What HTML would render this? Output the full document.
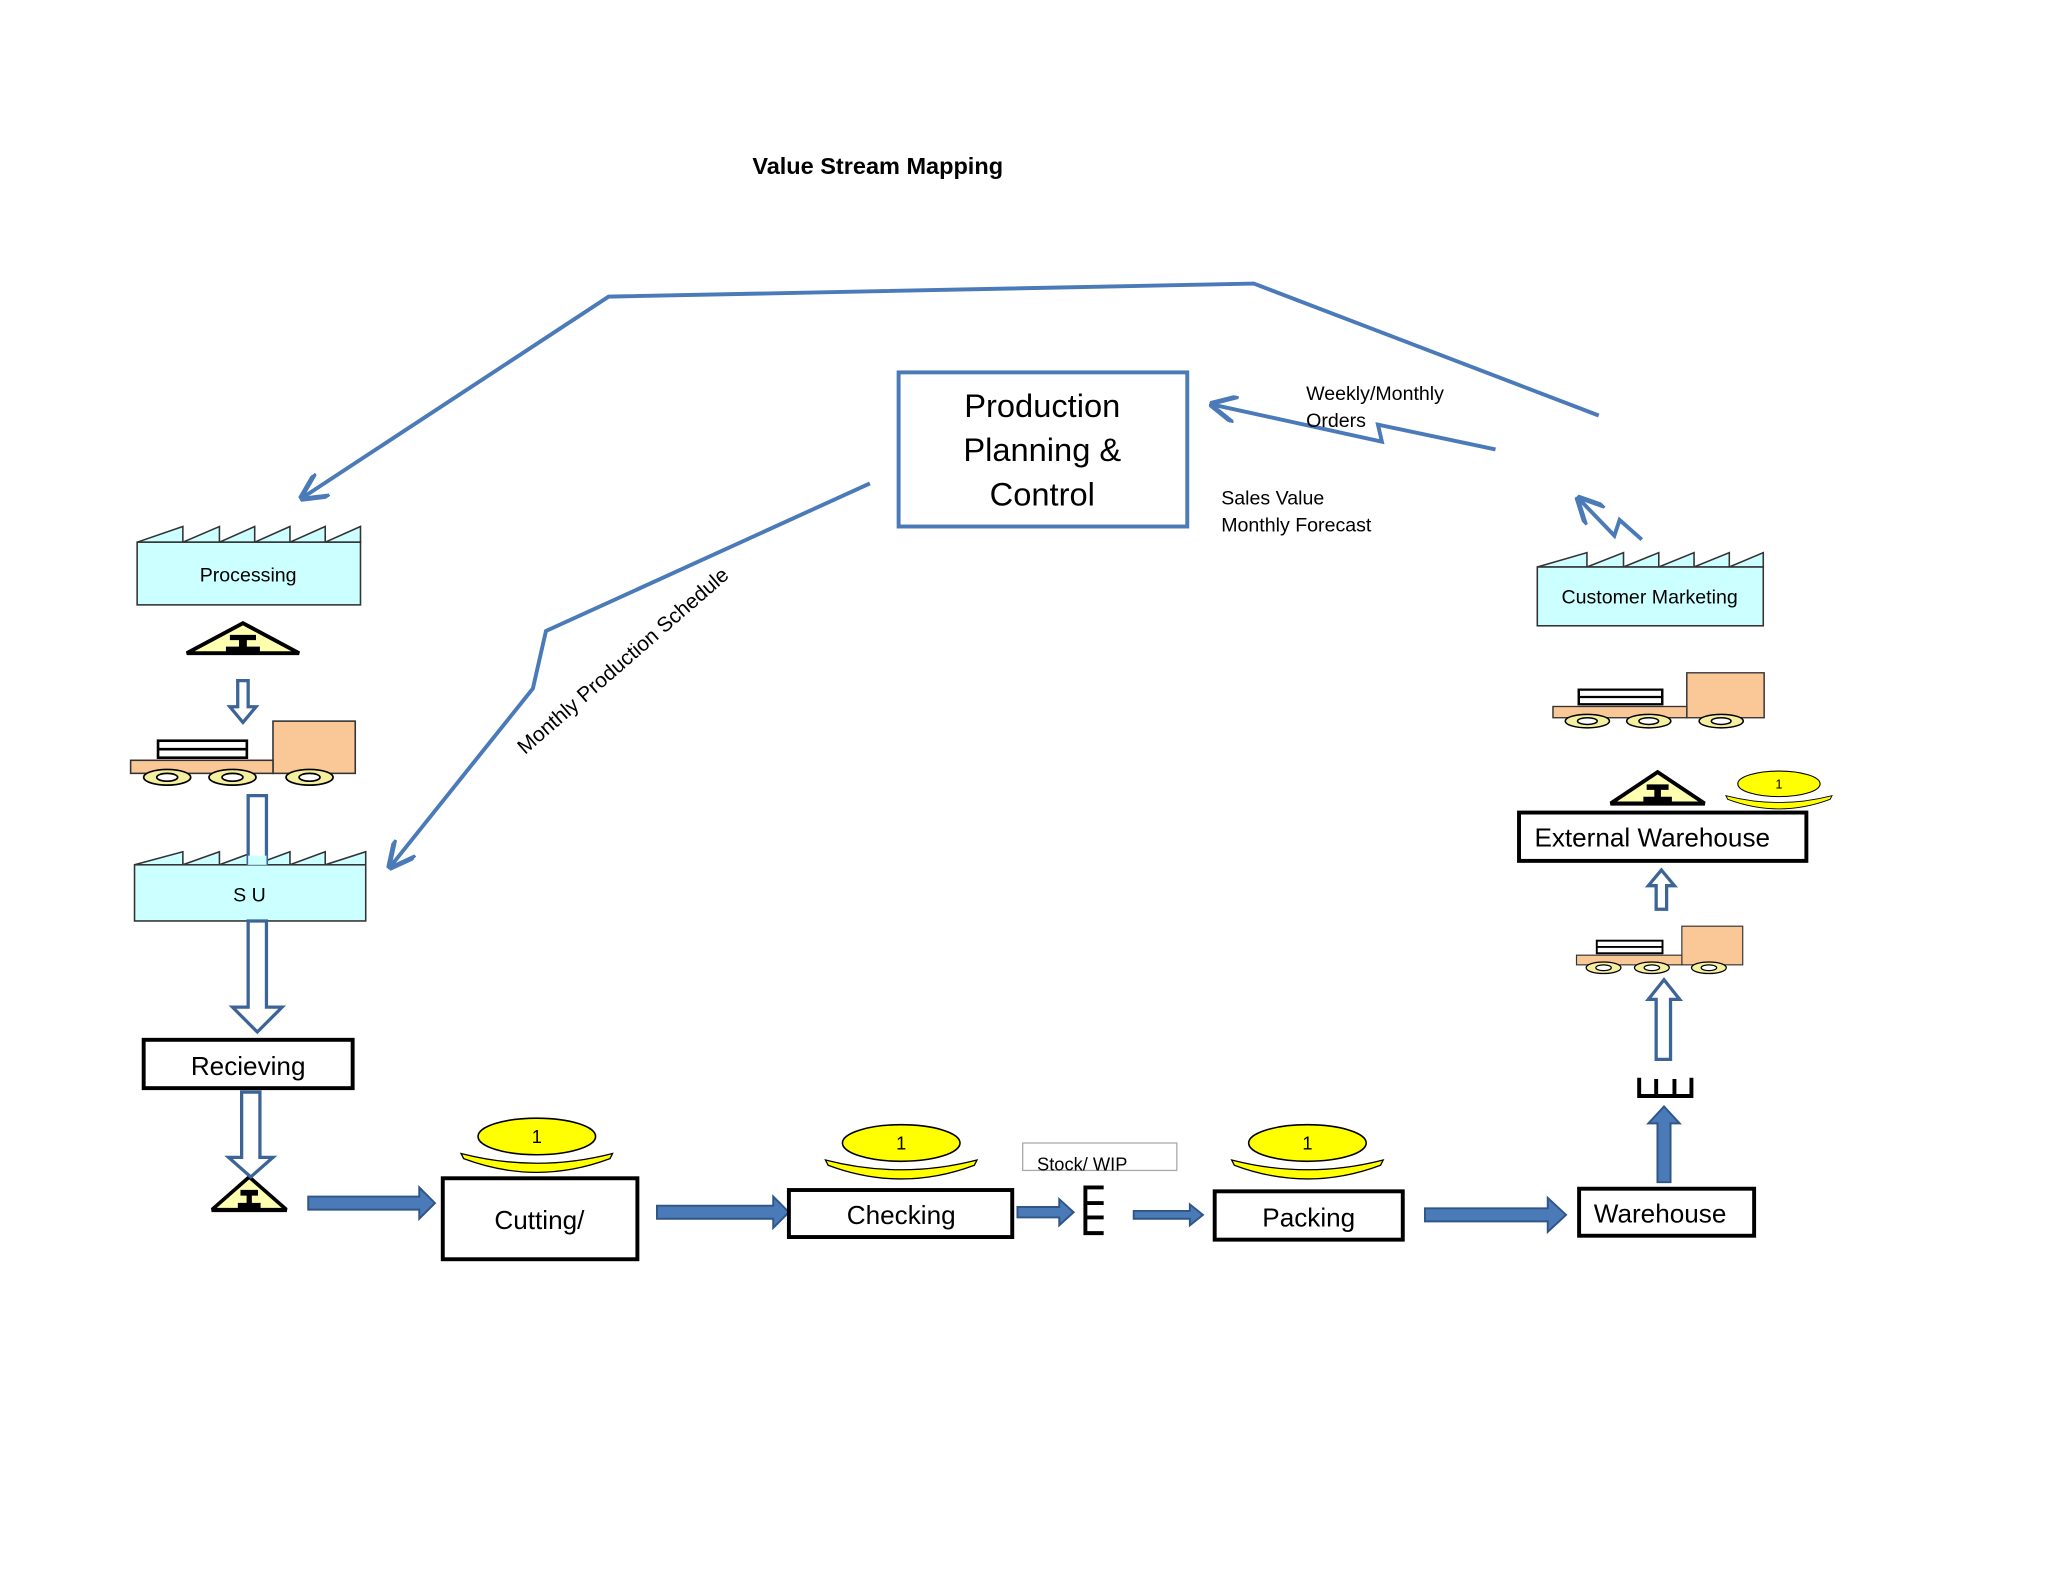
<!DOCTYPE html>
<html><head><style>html,body{margin:0;padding:0;background:#fff}svg{display:block}text{font-family:"Liberation Sans",sans-serif}</style></head><body>
<svg width="2048" height="1582" viewBox="0 0 1568 1211" xmlns="http://www.w3.org/2000/svg">
<defs>
<g id="truck">
<rect x="109" y="0" width="63" height="40" fill="#fac896" stroke="#333" stroke-width="1.2"/>
<rect x="0" y="30" width="109" height="10" fill="#fac896" stroke="#333" stroke-width="1.2"/>
<rect x="21" y="15" width="68" height="13" fill="#fff" stroke="#000" stroke-width="2"/>
<line x1="21" y1="21.5" x2="89" y2="21.5" stroke="#000" stroke-width="2"/>
<g fill="#f5f0a0" stroke="#000" stroke-width="1.3">
<ellipse cx="28" cy="43" rx="18" ry="6"/><ellipse cx="78" cy="43" rx="18" ry="6"/><ellipse cx="137" cy="43" rx="18" ry="6"/></g>
<g fill="#fff" stroke="#000" stroke-width="1.3">
<ellipse cx="28" cy="43" rx="8" ry="3"/><ellipse cx="78" cy="43" rx="8" ry="3"/><ellipse cx="137" cy="43" rx="8" ry="3"/></g>
</g>
<g id="inv">
<polygon points="0,23 43,0 86,23" fill="#ffffb0" stroke="#000" stroke-width="3"/>
<path d="M33,9 h20 v4 h-7 v5 h10 v4 h-26 v-4 h10 v-5 h-7z" fill="#000"/>
</g>
<g id="op">
<ellipse cx="0" cy="0" rx="45" ry="14" fill="#ffff00" stroke="#000" stroke-width="1.2"/>
<text x="0" y="5" font-size="14" text-anchor="middle">1</text>
<path d="M-58,13 Q0,28 58,13 L56,17 Q0,38 -56,17 Z" fill="#ffff00" stroke="#000" stroke-width="1"/>
</g>
<marker id="ah" viewBox="0 0 10 10" refX="8" refY="5" markerWidth="7" markerHeight="7" orient="auto-start-reverse"><path d="M0,0 L10,5 L0,10" fill="none" stroke="#4a7ab8" stroke-width="1.8"/></marker>
</defs>

<text x="576" y="133" font-size="18" font-weight="bold">Value Stream Mapping</text>

<polyline points="233,380 466,227 960,217 1224,318" fill="none" stroke="#4a7ab8" stroke-width="3" marker-start="url(#ah)"/>
<polyline points="1145,344 1055,325 1058,338 930,310" fill="none" stroke="#4a7ab8" stroke-width="3" marker-end="url(#ah)"/>
<polyline points="1257,413 1240,398 1236,410 1210,383" fill="none" stroke="#4a7ab8" stroke-width="3" marker-end="url(#ah)"/>
<polyline points="666,370 418,483 408,527 300,662" fill="none" stroke="#4a7ab8" stroke-width="3" marker-end="url(#ah)"/>
<text x="0" y="0" font-size="16" transform="translate(402,578) rotate(-41)">Monthly Production Schedule</text>

<rect x="688" y="285" width="221" height="118" fill="#fff" stroke="#4a7ab8" stroke-width="3"/>
<text x="798" y="319" font-size="25" text-anchor="middle">Production</text>
<text x="798" y="353" font-size="25" text-anchor="middle">Planning &amp;</text>
<text x="798" y="387" font-size="25" text-anchor="middle">Control</text>
<text x="1000" y="306" font-size="15">Weekly/Monthly</text>
<text x="1000" y="327" font-size="15">Orders</text>
<text x="935" y="386" font-size="15">Sales Value</text>
<text x="935" y="407" font-size="15">Monthly Forecast</text>

<g stroke="#333" stroke-width="1.2" fill="#ccffff">
<path d="M105,415 L140,403 V415 L168,403 V415 L195,403 V415 L222,403 V415 L249,403 V415 L276,403 V415 Z"/>
<rect x="105" y="415" width="171" height="48"/>
<path d="M103,662 L140,652 V662 L168,652 V662 L195,652 V662 L222,652 V662 L249,652 V662 L280,652 V662 Z"/>
<rect x="103" y="662" width="177" height="43"/>
<path d="M1177,434 L1215,423 V434 L1243,423 V434 L1270,423 V434 L1297,423 V434 L1324,423 V434 L1350,423 V434 Z"/>
<rect x="1177" y="434" width="173" height="45"/>
</g>
<text x="190" y="445" font-size="15" text-anchor="middle">Processing</text>
<text x="191" y="690" font-size="15" text-anchor="middle">S U</text>
<text x="1263" y="462" font-size="15" text-anchor="middle">Customer Marketing</text>

<use href="#inv" x="143" y="477"/>
<use href="#inv" transform="translate(162,901) scale(0.67,1.1)"/>
<use href="#inv" transform="translate(1233,591) scale(0.84,1.05)"/>

<use href="#truck" x="100" y="552"/>
<use href="#truck" transform="translate(1189,515) scale(0.94,0.86)"/>
<use href="#truck" transform="translate(1207,709) scale(0.74,0.74)"/>

<g fill="#fff" stroke="#3c6496" stroke-width="2.5">
<path d="M182,521 h8 v20 h6 l-10,12 l-10,-12 h6z"/>
<path d="M190,609 h14 v52 h-14z"/>
<path d="M190,705 h14 v66 h12 l-19,19 l-19,-19 h12z"/>
<path d="M185,836 h14 v50 h10 l-17,15 l-17,-15 h10z"/>
<path d="M1268,696 h8 v-18 h6 l-10,-12 l-10,12 h6z"/>
<path d="M1268,811 h11 v-46 h7 l-12,-15 l-12,15 h6z"/>
</g>
<rect x="190" y="655" width="14" height="7" fill="#ccffff"/>

<g fill="#4a7ab8" stroke="#2f5686" stroke-width="1.5">
<path d="M236,916 h85 v-7 l12,12 l-12,12 v-7 h-85z"/>
<path d="M503,923 h89 v-7 l12,12 l-12,12 v-7 h-89z"/>
<path d="M779,924 h32 v-6 l11,10 l-11,10 v-6 h-32z"/>
<path d="M868,927 h43 v-5 l10,8 l-10,8 v-5 h-43z"/>
<path d="M1091,925 h94 v-8 l14,13 l-14,13 v-8 h-94z"/>
<path d="M1269,905 v-45 h-7 l12,-13 l12,13 h-7 v45z"/>
</g>

<g fill="#fff" stroke="#000" stroke-width="3">
<rect x="110" y="796" width="160" height="37"/>
<rect x="339" y="902" width="149" height="62"/>
<rect x="604" y="911" width="171" height="36"/>
<rect x="930" y="912" width="144" height="37"/>
<rect x="1209" y="910" width="134" height="36"/>
<rect x="1163" y="622" width="220" height="37"/>
</g>
<text x="190" y="823" font-size="20" text-anchor="middle">Recieving</text>
<text x="413" y="941" font-size="20" text-anchor="middle">Cutting/</text>
<text x="690" y="937" font-size="20" text-anchor="middle">Checking</text>
<text x="1002" y="939" font-size="20" text-anchor="middle">Packing</text>
<text x="1271" y="936" font-size="20" text-anchor="middle">Warehouse</text>
<text x="1265" y="648" font-size="20" text-anchor="middle">External Warehouse</text>

<use href="#op" x="411" y="870"/>
<use href="#op" x="690" y="875"/>
<use href="#op" x="1001" y="875"/>
<use href="#op" transform="translate(1362,600) scale(0.7)"/>

<rect x="783" y="875" width="118" height="21" fill="none" stroke="#aaa" stroke-width="1"/>
<text x="794" y="896" font-size="14">Stock/ WIP</text>
<path d="M845,909 H831 V944 H845 M831,921 H845 M831,932 H845" fill="none" stroke="#000" stroke-width="3"/>
<path d="M1255,825 V839 H1295 V825 M1268,826 V839 M1282,826 V839" fill="none" stroke="#000" stroke-width="3"/>
</svg>
</body></html>
